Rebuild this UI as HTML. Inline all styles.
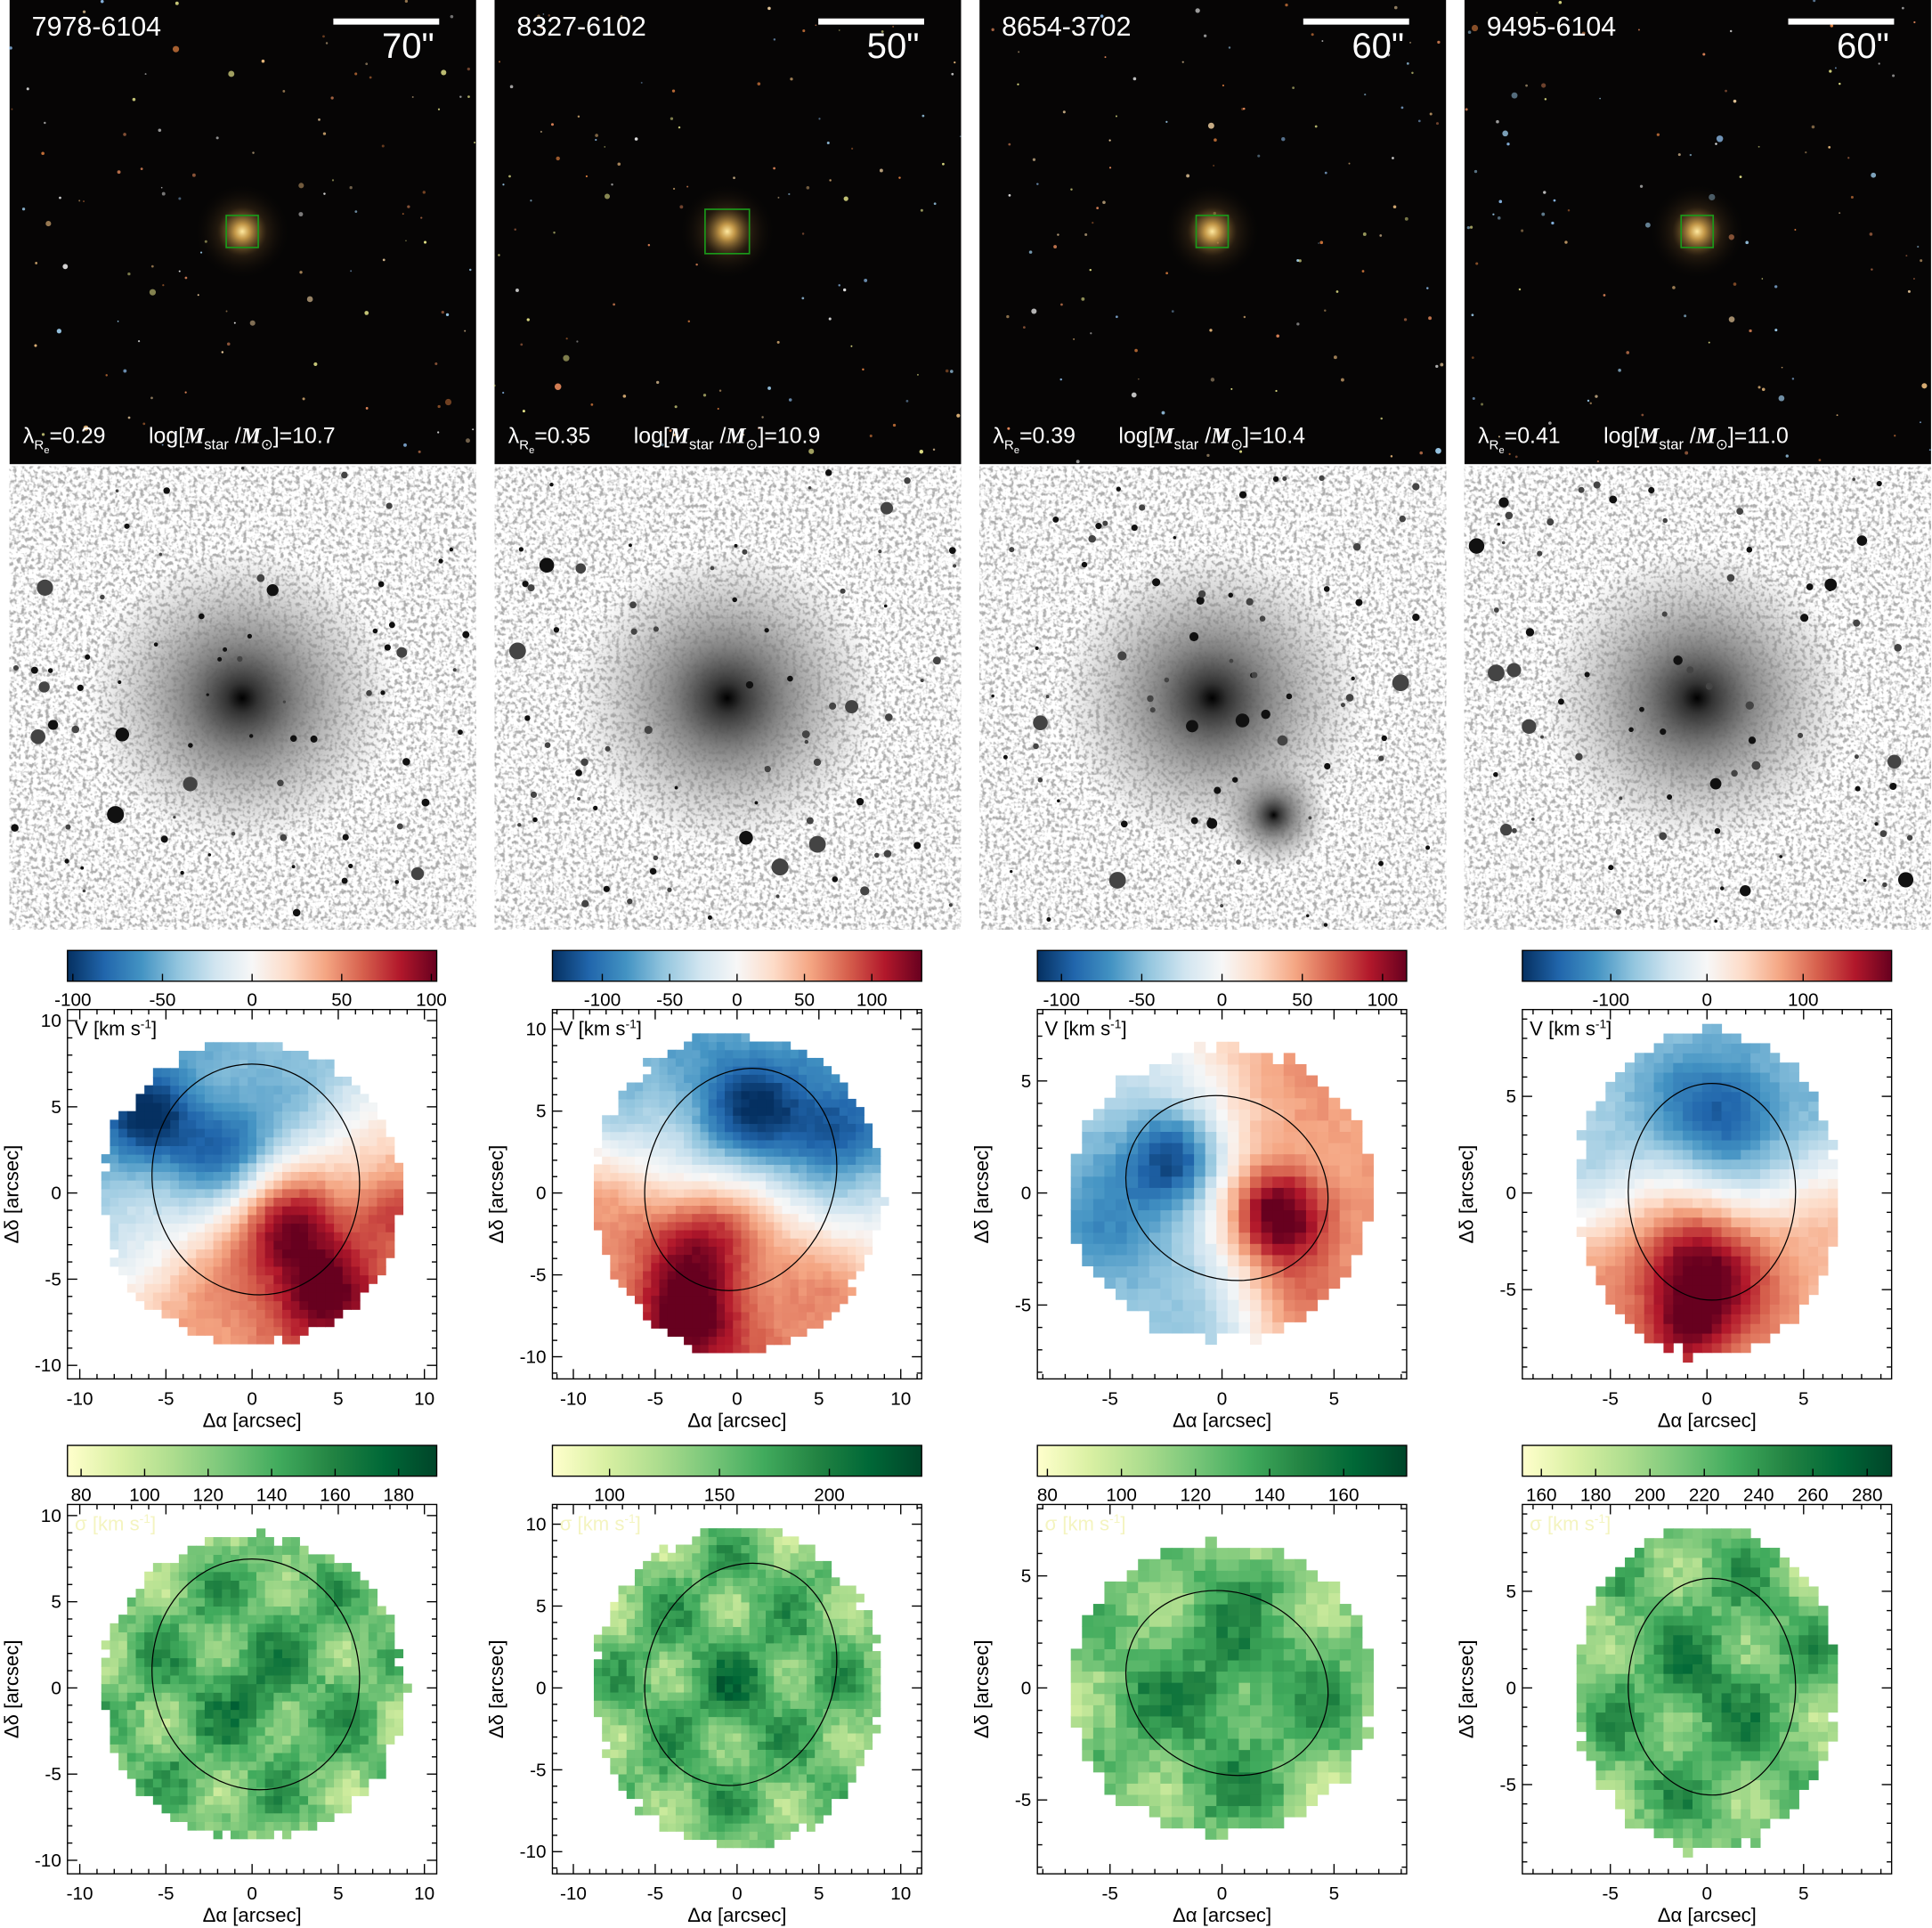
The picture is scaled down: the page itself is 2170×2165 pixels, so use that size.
<!DOCTYPE html>
<html><head><meta charset="utf-8">
<style>
html,body{margin:0;padding:0;background:#fff;}
svg{display:block;font-family:"Liberation Sans",sans-serif;}
</style></head>
<body>
<svg id="s" width="2170" height="2165" viewBox="0 0 1568 1566" xmlns="http://www.w3.org/2000/svg"></svg>
<script>
let seed=12345;function rnd(){seed=(seed*16807)%2147483647;return (seed-1)/2147483646;}
function gauss(){return (rnd()+rnd()+rnd()-1.5)*1.2;}
function lerp(a,b,t){return a+(b-a)*t;}
function cmap(stops,t){t=Math.max(0,Math.min(1,t));const n=stops.length-1;const i=Math.min(n-1,Math.floor(t*n));const f=t*n-i;const a=stops[i],b=stops[i+1];
return 'rgb('+Math.round(lerp(a[0],b[0],f))+','+Math.round(lerp(a[1],b[1],f))+','+Math.round(lerp(a[2],b[2],f))+')';}
function blob(x,y,bx,by,s){return Math.exp(-((x-bx)**2+(y-by)**2)/(2*s*s));}
const RDBU=[[5,48,97],[33,102,172],[67,147,195],[146,197,222],[209,229,240],[247,247,247],[253,219,199],[244,165,130],[214,96,77],[178,24,43],[103,0,31]];
const YLGN=[[255,255,204],[217,240,163],[173,221,142],[120,198,121],[65,171,93],[35,132,67],[0,104,55],[0,69,41]];
const P=[
{id:'7978-6104',sc:'70"',lam:'0.29',m:'10.7',vr:103,sr:[75.7,192],vt:[-100,-50,0,50,100],st:[80,100,120,140,160,180],pa:14,xt:[-10,-5,0,5,10],yt:[-10,-5,0,5,10],R:[8.8,8.8],
 vf:(x,y)=>0.45*Math.tanh((x*0.6-y)/4)-0.55*blob(x,y,-6,4.5,2)-0.45*blob(x,y,-1.5,2.5,2)+0.6*blob(x,y,2,-2,2.2)+0.6*blob(x,y,4,-6,2)+0.3*blob(x,y,8,-1,1.5),el:[3,-11,84,94,-10]},
{id:'8327-6102',sc:'50"',lam:'0.35',m:'10.9',vr:137,sr:[74,242],vt:[-100,-50,0,50,100],st:[100,150,200],pa:13.3,xt:[-10,-5,0,5,10],yt:[-10,-5,0,5,10],R:[8.8,9.8],
 vf:(x,y)=>0.5*Math.tanh((-x*0.3-y)/4)-0.5*blob(x,y,1,5,2.5)-0.4*blob(x,y,6,4,2)+0.5*blob(x,y,-2,-3,2.5)+0.6*blob(x,y,-3,-8,2),el:[3,-11,76,92,20]},
{id:'8654-3702',sc:'60"',lam:'0.39',m:'10.4',vr:115,sr:[77.3,177],vt:[-100,-50,0,50,100],st:[80,100,120,140,160],pa:18.2,xt:[-5,0,5],yt:[-5,0,5],R:[6.8,6.5],
 vf:(x,y)=>0.4*Math.tanh((x+0.3*y)/3)-0.7*blob(x,y,-2,1.5,1.5)-0.2*blob(x,y,-5,-2,2)+0.85*blob(x,y,2.5,-1,1.5)+0.2*blob(x,y,3,-5,2),el:[4,-4,84,73,25]},
{id:'9495-6104',sc:'60"',lam:'0.41',m:'11.0',vr:192,sr:[153,289],vt:[-100,0,100],st:[160,180,200,220,240,260,280],pa:15.7,xt:[-5,0,5],yt:[-5,0,5],R:[6.8,8.4],
 vf:(x,y)=>0.4*Math.tanh((-y+0.1*x)/3)-0.5*blob(x,y,1,4,2.2)+0.7*blob(x,y,-0.5,-4,2.2)+0.4*blob(x,y,-1,-7,1.5),el:[4,-1,68,88,0]}
];
let h='';
h+='<defs><filter id="nz" x="0" y="0" width="100%" height="100%"><feTurbulence type="fractalNoise" baseFrequency="0.3" numOctaves="2" seed="3"/><feColorMatrix type="matrix" values="0 0 0 0 0.42 0 0 0 0 0.42 0 0 0 0 0.42 4 0 0 0 -1.85"/></filter>';
h+='<radialGradient id="gl"><stop offset="0" stop-color="#ffe9a0"/><stop offset="0.15" stop-color="#d8a850" stop-opacity="0.9"/><stop offset="0.5" stop-color="#5a4020" stop-opacity="0.35"/><stop offset="1" stop-color="#000" stop-opacity="0"/></radialGradient>';
h+='<radialGradient id="gg"><stop offset="0" stop-color="#000"/><stop offset="0.1" stop-color="#333"/><stop offset="0.35" stop-color="#777" stop-opacity="0.9"/><stop offset="0.7" stop-color="#999" stop-opacity="0.45"/><stop offset="1" stop-color="#aaa" stop-opacity="0"/></radialGradient>';
h+='<linearGradient id="cbv">';for(let i=0;i<=10;i++)h+='<stop offset="'+i/10+'" stop-color="rgb('+RDBU[i].join(',')+')"/>';h+='</linearGradient>';
h+='<linearGradient id="cbs">';for(let i=0;i<=7;i++)h+='<stop offset="'+i/7+'" stop-color="rgb('+YLGN[i].join(',')+')"/>';h+='</linearGradient></defs>';
h+='<rect width="1568" height="1566" fill="#fff"/>';
const SC=['#fff','#fc8','#f96','#9cf','#ff9','#e84','#adf','#fda'];
P.forEach((p,k)=>{
 const X0=7+394*k, cx=204+394*k;
 h+='<rect x="'+X0+'" y="0" width="379" height="377" fill="#060505"/>';
 for(let i=0;i<110;i++){const r=rnd()<0.9?0.6+rnd()*0.8:1.4+rnd()*1.3;h+='<circle cx="'+(X0+rnd()*379).toFixed(1)+'" cy="'+(rnd()*377).toFixed(1)+'" r="'+r.toFixed(1)+'" fill="'+SC[Math.floor(rnd()*8)]+'" opacity="'+(0.4+rnd()*0.5).toFixed(2)+'"/>';}
 h+='<circle cx="'+(X0+189)+'" cy="188" r="40" fill="url(#gl)"/>';
 const gs=k==1?36:26;h+='<rect x="'+(X0+189-gs/2)+'" y="'+(188-gs/2)+'" width="'+gs+'" height="'+gs+'" fill="none" stroke="#1a9a1a" stroke-width="1.2"/>';
 h+='<text x="'+(X0+18)+'" y="29" fill="#fff" font-size="22">'+p.id+'</text>';
 h+='<rect x="'+(X0+263)+'" y="15" width="86" height="5" fill="#fff"/>';
 h+='<text x="'+(X0+345)+'" y="47" fill="#fff" font-size="29" text-anchor="end">'+p.sc+'</text>';
 h+='<text x="'+(X0+11)+'" y="360" fill="#fff" font-size="18">λ<tspan font-size="11" dy="5">R</tspan><tspan font-size="8" dy="3">e</tspan><tspan dy="-8">='+p.lam+'</tspan></text>';
 h+='<text x="'+(X0+113)+'" y="360" fill="#fff" font-size="18">log[<tspan font-family="Liberation Serif" font-weight="bold" font-style="italic">M</tspan><tspan font-size="12" dy="5">star</tspan><tspan dy="-5"> /</tspan><tspan font-family="Liberation Serif" font-weight="bold" font-style="italic">M</tspan><tspan font-size="12" dy="5">⊙</tspan><tspan dy="-5">]='+p.m+'</tspan></text>';
 h+='<rect x="'+X0+'" y="379" width="379" height="376" fill="#fff"/>';
 h+='<rect x="'+X0+'" y="379" width="379" height="376" filter="url(#nz)"/>';
 h+='<ellipse cx="'+(X0+189)+'" cy="567" rx="125" ry="120" fill="url(#gg)"/>';
 if(k==2)h+='<circle cx="'+(X0+239)+'" cy="662" r="45" fill="url(#gg)"/>';
 for(let i=0;i<70;i++){const r=rnd()<0.8?1.2+rnd()*2:3+rnd()*4;h+='<circle cx="'+(X0+r+rnd()*(379-2*r)).toFixed(1)+'" cy="'+(379+r+rnd()*(376-2*r)).toFixed(1)+'" r="'+r.toFixed(1)+'" fill="#'+(rnd()<0.5?'111':'444')+'"/>';}
 [0,1].forEach(row=>{
  const cy=row?1371:969, by=row?1222:820, cby=row?1174:772;
  const pa=p.pa, d=0.5*pa;
  const nx=Math.ceil(p.R[0]*2), ny=Math.ceil(p.R[1]*2);
  for(let i=-nx;i<=nx;i++)for(let j=-ny;j<=ny;j++){
   const x=i*0.5,y=j*0.5;const rr=(x/p.R[0])**2+(y/p.R[1])**2;
   if(rr>1+ (rnd()-0.5)*0.12)continue;
   let c;
   if(!row){let v=p.vf(x,y)+gauss()*0.03+0.08*Math.sin(x*0.7+k)*Math.cos(y*0.6);c=cmap(RDBU,(v+1)/2);}
   else{let s=0.5+0.2*Math.exp(-(x*x+y*y)/6)+0.22*Math.sin(x*0.9+k*2)*Math.sin(y*0.8+k)-0.25*Math.max(0,rr-0.6)+gauss()*0.08;c=cmap(YLGN,s);}
   h+='<rect x="'+(cx+x*pa-d/2).toFixed(2)+'" y="'+(cy-y*pa-d/2).toFixed(2)+'" width="'+(d+0.4).toFixed(2)+'" height="'+(d+0.4).toFixed(2)+'" fill="'+c+'"/>';
  }
  const e=p.el;h+='<ellipse cx="'+(cx+e[0])+'" cy="'+(cy+e[1])+'" rx="'+e[2]+'" ry="'+e[3]+'" transform="rotate('+e[4]+' '+(cx+e[0])+' '+(cy+e[1])+')" fill="none" stroke="#000" stroke-width="0.9"/>';
  const bx=54+394*k;
  h+='<rect x="'+bx+'" y="'+by+'" width="300" height="300" fill="none" stroke="#000" stroke-width="1"/>';
  const lim=150/pa;
  for(let t=Math.ceil(-lim);t<=Math.floor(lim);t++){
   const L=t%5==0?8:4;const xx=cx+t*pa, yy=cy-t*pa;
   h+='<line x1="'+xx+'" y1="'+(by+300)+'" x2="'+xx+'" y2="'+(by+300-L)+'" stroke="#000"/><line x1="'+xx+'" y1="'+by+'" x2="'+xx+'" y2="'+(by+L)+'" stroke="#000"/>';
   h+='<line x1="'+bx+'" y1="'+yy+'" x2="'+(bx+L)+'" y2="'+yy+'" stroke="#000"/><line x1="'+(bx+300)+'" y1="'+yy+'" x2="'+(bx+300-L)+'" y2="'+yy+'" stroke="#000"/>';
  }
  p.xt.forEach(t=>h+='<text x="'+(cx+t*pa)+'" y="'+(by+321)+'" font-size="15" text-anchor="middle">'+t+'</text>');
  p.yt.forEach(t=>h+='<text x="'+(bx-5)+'" y="'+(cy-t*pa+5)+'" font-size="15" text-anchor="end">'+t+'</text>');
  h+='<text x="'+(bx+150)+'" y="'+(by+339)+'" font-size="16" text-anchor="middle">Δα [arcsec]</text>';
  h+='<text transform="translate('+(bx-40)+','+(by+150)+') rotate(-90)" font-size="16" text-anchor="middle">Δδ [arcsec]</text>';
  h+='<text x="'+(bx+6)+'" y="'+(by+21)+'" font-size="16" fill="'+(row?'#f4f4c0':'#000')+'">'+(row?'σ':'V')+' [km s<tspan font-size="10" dy="-6">-1</tspan><tspan dy="6">]</tspan></text>';
  h+='<rect x="'+bx+'" y="'+cby+'" width="300" height="25" fill="url(#'+(row?'cbs':'cbv')+')" stroke="#000" stroke-width="1"/>';
  const lo=row?p.sr[0]:-p.vr, hi=row?p.sr[1]:p.vr;
  (row?p.st:p.vt).forEach(t=>{const xx=bx+(t-lo)/(hi-lo)*300;h+='<line x1="'+xx+'" y1="'+(cby+25)+'" x2="'+xx+'" y2="'+(cby+19)+'" stroke="#000"/><text x="'+xx+'" y="'+(cby+45)+'" font-size="15" text-anchor="middle">'+t+'</text>';});
 });
});
document.getElementById('s').innerHTML=h;
</script>
</body></html>
